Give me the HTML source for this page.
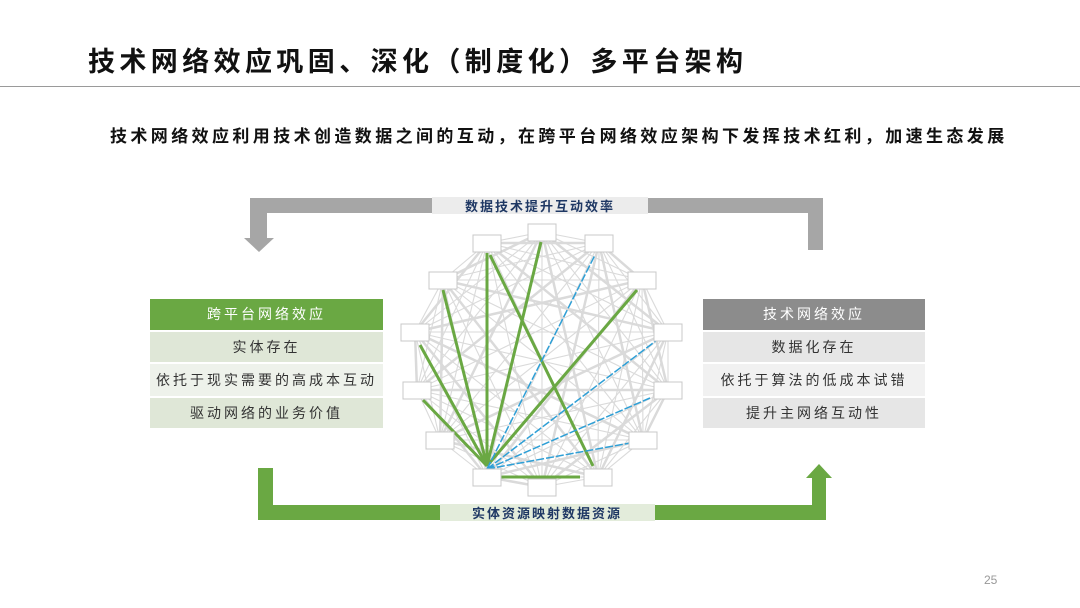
<!DOCTYPE html>
<html><head><meta charset="utf-8"><style>
body{margin:0;width:1080px;height:608px;background:#fff;overflow:hidden;position:relative;font-family:"Liberation Sans","Noto Sans CJK SC",sans-serif}
.t{position:absolute;white-space:nowrap;font-weight:bold}
.tbl{position:absolute;width:233px}
.tbl div{text-align:center;font-size:14px;letter-spacing:3px;color:#333;margin-bottom:2px}
</style></head><body>
<div class="t" style="left:88px;top:40px;font-size:27px;letter-spacing:4.4px;color:#111">技术网络效应巩固、深化（制度化）多平台架构</div>
<div style="position:absolute;left:0;top:86px;width:1080px;height:1px;background:#9a9a9a"></div>
<div class="t" style="left:110px;top:122px;font-size:17px;letter-spacing:3.4px;color:#111">技术网络效应利用技术创造数据之间的互动，在跨平台网络效应架构下发挥技术红利，加速生态发展</div>
<svg id="s" width="1080" height="608" style="position:absolute;left:0;top:0">
<g id="g"></g>
<rect x="250" y="198" width="573" height="15" fill="#a6a6a6"/>
<rect x="250" y="198" width="17" height="42" fill="#a6a6a6"/>
<polygon points="244,238 274,238 259,252" fill="#a6a6a6"/>
<rect x="808" y="198" width="15" height="52" fill="#a6a6a6"/>
<rect x="432" y="197" width="216" height="17" fill="#ececec"/>
<text x="540" y="211" font-size="13" font-weight="bold" fill="#1f3864" text-anchor="middle" letter-spacing="2" font-family="Liberation Sans,Noto Sans CJK SC,sans-serif">数据技术提升互动效率</text>
<rect x="258" y="505" width="568" height="15" fill="#6aa843"/>
<rect x="258" y="468" width="15" height="52" fill="#6aa843"/>
<rect x="812" y="476" width="14" height="44" fill="#6aa843"/>
<polygon points="806,478 832,478 819,464" fill="#6aa843"/>
<rect x="440" y="504" width="215" height="17" fill="#e3ecdb"/>
<text x="547" y="518" font-size="13" font-weight="bold" fill="#1f3864" text-anchor="middle" letter-spacing="2" font-family="Liberation Sans,Noto Sans CJK SC,sans-serif">实体资源映射数据资源</text>
</svg>
<div class="tbl" style="left:150px;top:299px">
<div style="background:#6aa843;color:#fff;height:31px;line-height:31px">跨平台网络效应</div>
<div style="background:#dfe7d7;height:30px;line-height:30px">实体存在</div>
<div style="background:#eef2eb;height:32px;line-height:32px">依托于现实需要的高成本互动</div>
<div style="background:#dfe7d7;height:30px;line-height:30px">驱动网络的业务价值</div>
</div>
<div class="tbl" style="left:703px;top:299px;width:222px">
<div style="background:#8c8c8c;color:#fff;height:31px;line-height:31px">技术网络效应</div>
<div style="background:#e6e6e6;height:30px;line-height:30px">数据化存在</div>
<div style="background:#f1f1f1;height:32px;line-height:32px">依托于算法的低成本试错</div>
<div style="background:#e6e6e6;height:30px;line-height:30px">提升主网络互动性</div>
</div>
<div style="position:absolute;left:984px;top:573px;font-size:12px;color:#999">25</div>
<script>
var N=[[542,232],[487,243],[599,243],[443,280],[642,280],[415,332],[668,332],[417,390],[668,390],[440,440],[643,440],[487,477],[598,477],[542,487]];
var g=document.getElementById('g'),h='';
for(var i=0;i<N.length;i++)for(var j=i+1;j<N.length;j++){h+='<line x1="'+N[i][0]+'" y1="'+N[i][1]+'" x2="'+N[j][0]+'" y2="'+N[j][1]+'" stroke="#dadada" stroke-width="'+((i+j)%3==0?2.5:1.1)+'"/>';}
var H=[487,466];
var G=[[443,290],[487,253],[541,242],[637,290],[420,345],[423,400]];
G.forEach(function(p){h+='<line x1="'+H[0]+'" y1="'+H[1]+'" x2="'+p[0]+'" y2="'+p[1]+'" stroke="#6aa843" stroke-width="3"/>';});
h+='<line x1="490" y1="255" x2="593" y2="466" stroke="#6aa843" stroke-width="3"/>';
h+='<line x1="500" y1="477" x2="580" y2="477" stroke="#6aa843" stroke-width="3"/>';
[[595,255],[657,340],[650,398],[630,443]].forEach(function(p){h+='<line x1="'+H[0]+'" y1="'+(H[1]+3)+'" x2="'+p[0]+'" y2="'+p[1]+'" stroke="#2e9fd6" stroke-width="1.5" stroke-dasharray="8,2"/>';});
N.forEach(function(p){h+='<rect x="'+(p[0]-14)+'" y="'+(p[1]-8)+'" width="28" height="17" fill="#fff" stroke="#c8c8c8" stroke-width="1"/>';});
g.innerHTML=h;
</script>
</body></html>
